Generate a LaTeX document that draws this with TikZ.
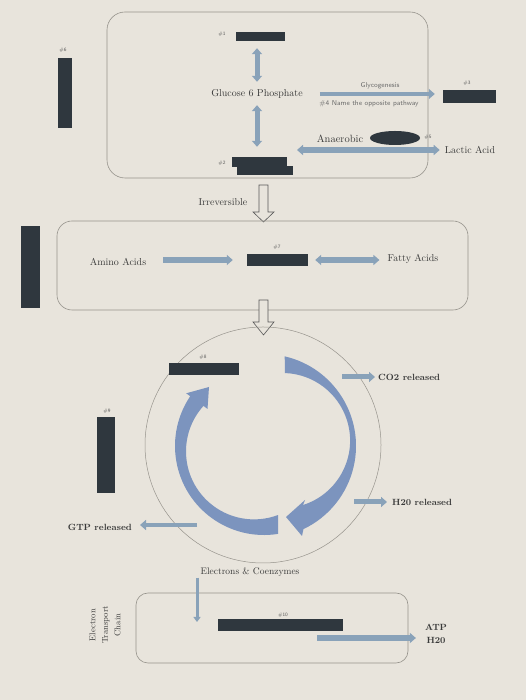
\documentclass[tikz,border=0pt]{standalone}
\usetikzlibrary{arrows.meta,calc,shapes.geometric}
\definecolor{paper}{RGB}{232,228,220}
\definecolor{bar}{RGB}{47,55,62}
\definecolor{shaft}{RGB}{137,162,185}
\definecolor{krebs}{RGB}{124,148,190}
\definecolor{ink}{RGB}{58,58,58}
\definecolor{frame}{RGB}{150,147,140}

\begin{document}
\begin{tikzpicture}[x=1pt, y=1pt,
  every node/.style={inner sep=0pt, text=ink, font=\fontsize{10}{12}\selectfont},
  panel/.style={draw=frame, line width=0.6pt, rounded corners=#1},
  blank/.style={fill=bar},
  tag/.style={text=ink!85, font=\sffamily\fontsize{5}{6}\selectfont},
  hint/.style={text=ink!75, font=\sffamily\fontsize{7}{8}\selectfont},
  note/.style={font=\bfseries\fontsize{9}{11}\selectfont},
  onehead/.style={-{Triangle[length=6pt, width=10pt]}},
  twohead/.style={{Triangle[length=6pt, width=10pt]}-{Triangle[length=6pt, width=10pt]}},
  smallhead/.style={-{Triangle[length=5pt, width=7pt]}},
  flow/.style={draw=shaft, line width=#1},
  flow/.default=5pt,
  hollow/.style={draw=ink!85, fill=paper, line width=0.6pt},
  ring/.style={draw=frame, line width=0.5pt},
  cyclearrow/.style={fill=krebs}
]
% Paper
\fill[paper] (0,0) rectangle (526,700);
\useasboundingbox (0,0) rectangle (526,700);

% Top panel: glucose 6 phosphate
\node[panel=18pt, minimum width=321pt, minimum height=166pt] (toppanel) at (267.5,605) {};
\node[blank, minimum width=49pt, minimum height=9pt] (n1) at (260.5,663.5) {};
\node[tag] at (222,666) {\#1};
\node (g6p) at (257,606) {Glucose 6 Phosphate};
\draw[flow, twohead, shorten <=7pt, shorten >=7.5pt] (g6p.north |- n1.south) -- (g6p.north);
\node[blank, minimum width=55pt, minimum height=10pt] (n2) at (259.5,538) {};
\node[blank, minimum width=56pt, minimum height=9pt] (n2b) at (265,529.5) {};
\node[tag] at (222,537) {\#2};
\draw[flow, twohead, shorten <=6.5pt, shorten >=10pt] (g6p.south) -- (g6p.south |- n2.north);

% Glycogenesis
\node[blank, minimum width=53pt, minimum height=13pt] (n3) at (469.5,603.5) {};
\node[tag] at (467,617) {\#3};
\draw[flow=4pt, onehead, shorten <=17pt, shorten >=8pt] (g6p.east) -- (g6p.east -| n3.west);
\node[hint] (glyco) at (380,614) {Glycogenesis};
\node[hint] (ask4) at (369,596) {\#4 Name the opposite pathway};

% Anaerobic
\node[font=\fontsize{10.5}{12}\selectfont] (anaer) at (340,561) {Anaerobic};
\node[blank, ellipse, minimum width=50pt, minimum height=14pt] (n5) at (395,562) {};
\node[tag] at (428,563) {\#5};
\node (lactic) at (470,550) {Lactic Acid};
\coordinate (pyr) at (297,550);
\draw[flow=6pt, twohead, shorten >=5pt] (pyr) -- (lactic.west);

% #6
\node[blank, minimum width=14pt, minimum height=70pt] (n6) at (65,607) {};
\node[tag] at (63,650) {\#6};

% Irreversible step
\node (irr) at (223,498) {Irreversible};
\draw[hollow] (259,515) -- (268,515) -- (268,488) -- (274,488) -- (263.5,478) -- (253,488) -- (259,488) -- cycle;

% Middle panel
\node[panel=15pt, minimum width=411pt, minimum height=89pt] (midpanel) at (262.5,434.5) {};
\node[blank, minimum width=19pt, minimum height=82pt] (nleft) at (30.5,433) {};
\node (amino) at (118,438) {Amino Acids};
\node[blank, minimum width=61pt, minimum height=12pt] (n7) at (277.5,440) {};
\node[tag] at (277,453) {\#7};
\node (fatty) at (413,441) {Fatty Acids};
\draw[flow=6pt, onehead, shorten <=17pt, shorten >=14pt] (amino.east |- n7.west) -- (n7.west);
\draw[flow=6pt, twohead, shorten <=7pt, shorten >=8pt] (n7.east) -- (n7.east -| fatty.west);
\draw[hollow] (259,400) -- (268,400) -- (268,378) -- (274,378) -- (263.5,365) -- (253,378) -- (259,378) -- cycle;

% Cycle
\coordinate (hub) at (263,255);
\draw[ring] (hub) circle[radius=118];
\coordinate (outer) at (264,254);
\coordinate (innerR) at (282.5,259.4);
\coordinate (innerL) at (254,248.6);
\fill[cyclearrow] ($(outer)+(77:92)$) arc[start angle=77, end angle=-64.6, radius=92]
  -- (302,164) -- (286,183) -- (305,200)
  -- ($(innerR)+(-72.3:67.6)$) arc[start angle=-72.3, end angle=87.9, radius=67.6] -- cycle;
\fill[cyclearrow] ($(outer)+(-80.8:89)$) arc[start angle=-80.8, end angle=-214, radius=89]
  -- (186.2,306.7) -- (209,313) -- (207.5,291.1)
  -- ($(innerL)+(138:68)$) arc[start angle=138, end angle=290.7, radius=68] -- cycle;
\node[blank, minimum width=70pt, minimum height=12pt] (n8) at (204,331) {};
\node[tag] at (203,343) {\#8};
\node[note, anchor=west] (co2) at (378,323) {CO2 released};
\coordinate (co2src) at (342,323);
\draw[flow, onehead, shorten >=3pt] (co2src) -- (co2.west);
\node[note, anchor=west] (h2o) at (392,198) {H20 released};
\coordinate (h2osrc) at (354,198);
\draw[flow, onehead, shorten >=5pt] (h2osrc) -- (h2o.west);
\node[note, anchor=east] (gtp) at (132,173) {GTP released};
\coordinate (gtpsrc) at (197,175);
\draw[flow=4pt, onehead, shorten >=8pt] (gtpsrc) -- (gtp.east |- gtpsrc);
\node[blank, minimum width=18pt, minimum height=76pt] (n9) at (106,245) {};
\node[tag] at (107,289) {\#9};

% Electron transport chain
\node[font=\fontsize{9.5}{11}\selectfont] (elec) at (250,128) {Electrons \& Coenzymes};
\node[panel=12pt, minimum width=272pt, minimum height=70pt] (etc) at (272,72) {};
\coordinate (etcin) at (197,78);
\draw[flow=3pt, smallhead, shorten <=1pt] (elec.south -| etcin) -- (etcin);
\node[blank, minimum width=125pt, minimum height=12pt] (n10) at (280.5,75) {};
\node[tag] at (283,85) {\#10};
\node[note, align=center, font=\bfseries\fontsize{9}{13}\selectfont] (atp) at (436,66.5) {ATP\\H20};
\coordinate (atpsrc) at (317,62);
\draw[flow=6pt, onehead, shorten >=9pt] (atpsrc) -- (atpsrc -| atp.west);
\node[rotate=90, align=center, font=\fontsize{8.5}{12.5}\selectfont] (etclabel) at (105,75) {Electron\\Transport\\Chain};
\end{tikzpicture}
\end{document}
